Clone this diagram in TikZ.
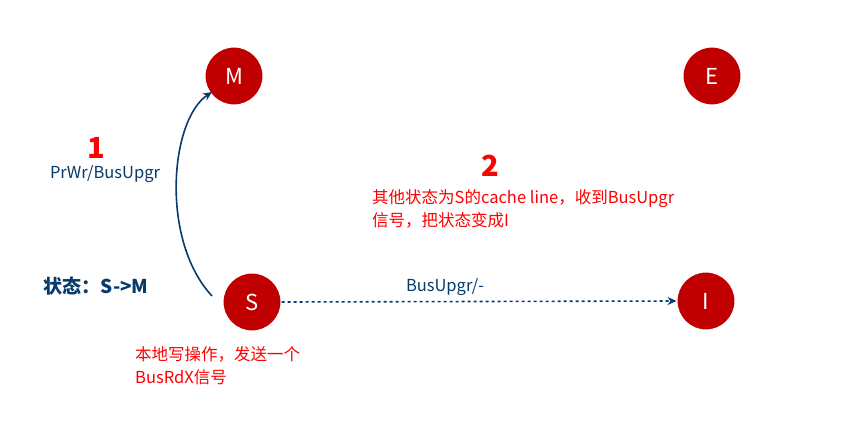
\documentclass[tikz,border=0pt]{standalone}
\usepackage{fontspec}
\setmainfont{Noto Sans CJK SC}
\usetikzlibrary{arrows.meta}
\definecolor{dred}{HTML}{C00000}
\definecolor{dblue}{HTML}{083A6B}
\begin{document}
\begin{tikzpicture}[x=1pt,y=-1pt,
  st/.style={circle,fill=dred,draw=white,line width=1pt,minimum size=58pt,inner sep=0pt,text=white,font=\fontsize{22}{22}\selectfont},
  rtxt/.style={text=red,font=\fontsize{16.5}{23}\selectfont,align=left,inner sep=0pt},
  btxt/.style={text=dblue,font=\fontsize{16.5}{20}\selectfont,inner sep=0pt},
  num/.style={text=red,font=\bfseries\fontsize{29}{29}\selectfont,inner sep=0pt},
  conn/.style={dblue,line width=1.6pt,-{Stealth[length=9pt,width=8pt]}}]
\useasboundingbox (0,0) rectangle (868,436);
\node[st] (M) at (234,76) {M};
\node[st] (E) at (712,76) {E};
\node[st] (S) at (252,302) {S};
\node[st] (I) at (706,301) {I};
\node[num] (n1) at (96,148) {1};
\node[btxt] (l1) at (105,174) {PrWr/BusUpgr};
\node[btxt,font=\bfseries\fontsize{19}{22}\selectfont] (st1) at (96,286) {状态：S->M};
\node[num] (n2) at (490,166) {2};
\node[rtxt,anchor=north west] (t2) at (372,189) {其他状态为S的cache line，收到BusUpgr\\信号，把状态变成I};
\node[btxt] (l2) at (445,287) {BusUpgr/-};
\node[rtxt,anchor=north west] (t3) at (135,346) {本地写操作，发送一个\\BusRdX信号};
\coordinate (a0) at (212,296);
\coordinate (a1) at (212,92);
\draw[conn] (a0) .. controls (160,240) and (170,120) .. (a1);
\draw[conn,dashed] (S.east) -- (I.west);
\end{tikzpicture}
\end{document}
